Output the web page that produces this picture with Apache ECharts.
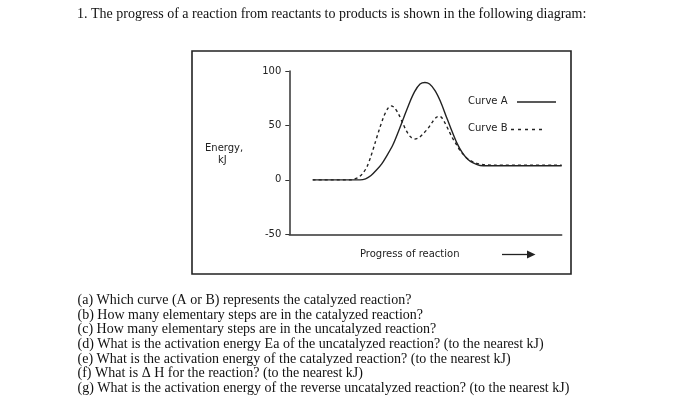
<!DOCTYPE html>
<html>
<head>
<meta charset="utf-8">
<script src="https://cdn.jsdelivr.net/npm/echarts@6/dist/echarts.min.js"></script>
<style>html,body{margin:0;padding:0;background:#fff;}#c{width:700px;height:396px;}</style>
</head>
<body>
<div id="c"></div>
<script>
var titleText = '1. The progress of a reaction from reactants to products is shown in the following diagram:';
var questions = [
  '(a) Which curve (A or B) represents the catalyzed reaction?',
  '(b) How many elementary steps are in the catalyzed reaction?',
  '(c) How many elementary steps are in the uncatalyzed reaction?',
  '(d) What is the activation energy Ea of the uncatalyzed reaction? (to the nearest kJ)',
  '(e) What is the activation energy of the catalyzed reaction? (to the nearest kJ)',
  '(f) What is \u0394 H for the reaction? (to the nearest kJ)',
  '(g) What is the activation energy of the reverse uncatalyzed reaction? (to the nearest kJ)'
];
var seriesNames = ['Curve A', 'Curve B'];
var yTicks = [-50, 0, 50, 100];
// progress (0-100) and energy (kJ)
var curveAProgress = [8.6, 26, 28, 30, 32, 34, 36, 38, 40, 42, 44, 46, 48, 49.8, 51.5, 53.5, 55.5, 57.5, 59.5, 61.5, 63.5, 65.5, 67.5, 70, 73, 100];
var curveAEnergy   = [0,   0,  1,  4,  9,  15, 23, 32, 44, 57, 70, 81, 88, 89.5, 88,   82,   72,   59,   46,   34,   25,   19,   15.5, 13.2, 13, 13];
var curveBProgress = [8.6, 22.3, 24, 25.5, 27, 28.5, 30, 31.5, 33, 34.5, 36, 37.3, 38.5, 40, 41.5, 43, 44.5, 46.1, 47.7, 49.2, 51, 52.5, 54, 55, 56, 57.2, 58.5, 59.8, 61.2, 62.7, 64.5, 66.3, 68.5, 71.2, 75, 100];
var curveBEnergy   = [0,   0,    0.8, 2.5, 6,  12,   22, 34,   46, 57,   65, 68,   66.5, 61, 53,   45, 39.5, 37.5, 39,  42.5, 47.5, 53, 57.5, 58.5, 57, 52, 45.5, 39,  33,   27,   21.5, 18,   15.5, 14,   13.5, 13.5];

function pairs(xs, ys){ return xs.map(function(x,i){ return [x, ys[i]]; }); }

var chart = echarts.init(document.getElementById('c'), null, {renderer:'canvas'});
var ink = '#222';
var sans = 'DejaVu Sans';

var graphics = [
  {type:'rect', shape:{x:192, y:51, width:379, height:223}, style:{fill:'none', stroke:ink, lineWidth:1.6}, z:0},
  {type:'text', left:77, top:7.5, style:{text:titleText, font:'14px "Liberation Serif"', fill:'#111'}},
  {type:'text', left:205, top:143, style:{text:'Energy,', font:'10px "DejaVu Sans"', fill:ink}},
  {type:'text', left:218, top:155, style:{text:'kJ', font:'10px "DejaVu Sans"', fill:ink}},
  {type:'text', left:360, top:249, style:{text:'Progress of reaction', font:'10px "DejaVu Sans"', fill:ink}},
  {type:'line', shape:{x1:502, y1:254.5, x2:528, y2:254.5}, style:{stroke:ink, lineWidth:1.3}},
  {type:'polygon', shape:{points:[[527,250.5],[535.5,254.5],[527,258.5]]}, style:{fill:ink}},
  // legend
  {type:'text', left:468, top:96, style:{text:seriesNames[0], font:'10px "DejaVu Sans"', fill:ink}},
  {type:'line', shape:{x1:517, y1:102, x2:556, y2:102}, style:{stroke:ink, lineWidth:1.3}},
  {type:'text', left:468, top:123, style:{text:seriesNames[1], font:'10px "DejaVu Sans"', fill:ink}},
  {type:'line', shape:{x1:511, y1:129.5, x2:546, y2:129.5}, style:{stroke:ink, lineWidth:1.3, lineDash:[3,4]}}
];
questions.forEach(function(q, i){
  graphics.push({type:'text', left:77.5, top:293.5 + i*14.6, style:{text:q, font:'14px "Liberation Serif"', fill:'#111'}});
});

chart.setOption({
  animation:false,
  backgroundColor:'#fff',
  grid:{left:289.3, top:71, right:138.3, bottom:161.7, containLabel:false},
  legend:{show:false, data:seriesNames},
  xAxis:{
    type:'value', min:0, max:100,
    axisLine:{show:true, onZero:false, lineStyle:{color:'#333', width:1.5}},
    axisTick:{show:false}, axisLabel:{show:false}, splitLine:{show:false}
  },
  yAxis:{
    type:'value', min:yTicks[0], max:yTicks[yTicks.length-1], interval:50,
    axisLine:{show:true, lineStyle:{color:'#333', width:1.5}},
    axisTick:{show:true, length:4, lineStyle:{color:'#333', width:1}},
    axisLabel:{fontFamily:sans, fontSize:10, color:ink, margin:8},
    splitLine:{show:false}
  },
  series:[
    {name:seriesNames[0], type:'line', data:pairs(curveAProgress, curveAEnergy), smooth:0.3,
     symbol:'none', lineStyle:{color:ink, width:1.4, type:'solid'}, itemStyle:{color:ink}},
    {name:seriesNames[1], type:'line', data:pairs(curveBProgress, curveBEnergy), smooth:0.3,
     symbol:'none', lineStyle:{color:ink, width:1.4, type:[3,3]}, itemStyle:{color:ink}}
  ],
  graphic:graphics
});
</script>
</body>
</html>
